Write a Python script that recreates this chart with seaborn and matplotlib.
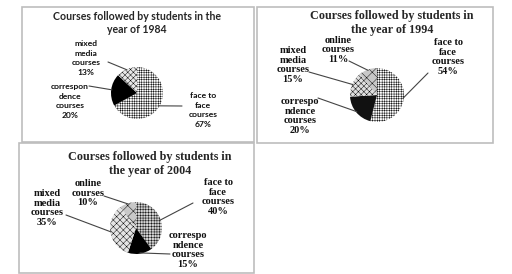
import matplotlib
matplotlib.use('Agg')
import numpy as np
import matplotlib.pyplot as plt
from matplotlib.patches import Rectangle
import seaborn as sns

# ---- data -------------------------------------------------------------
YEARS = ['1984', '1994', '2004']

LABELS_1984 = ['face to\nface\ncourses', 'correspon\ndence\ncourses', 'mixed\nmedia\ncourses']
SHARES_1984 = [67, 20, 13]

LABELS_1994 = ['face to\nface\ncourses', 'correspo\nndence\ncourses',
               'mixed\nmedia\ncourses', 'online\ncourses']
SHARES_1994 = [54, 20, 15, 11]

LABELS_2004 = ['face to\nface\ncourses', 'correspo\nndence\ncourses',
               'mixed\nmedia\ncourses', 'online\ncourses']
SHARES_2004 = [40, 15, 35, 10]

TITLES = ['Courses followed by students in the\nyear of 1984',
          'Courses followed by students in\nthe year of 1994',
          'Courses followed by students in\nthe year of 2004']

# ---- layout (pixels, origin top-left) ---------------------------------
W, H = 512, 274
PANELS = [(22, 7, 254, 142), (257, 7, 493, 143), (19, 143, 254, 273)]
PIES = [(137, 93, 26), (377, 95, 27), (136, 228, 26)]
TITLE_POS = [(137, 23), (392, 23), (150, 164)]
FONTS = ['Lato', 'Liberation Serif', 'Liberation Serif']
TITLE_SIZE = [7.6, 8.7, 8.7]
LABEL_SIZE = [6.1, 7.5, 7.5]
# label centre, leader start
LABEL_POS = [
    [(203, 110, 182, 106), (70, 101, 89, 86), (86, 58, 108, 62)],
    [(448, 57, 428, 73), (300, 116, 318, 98), (293, 65, 309, 72), (338, 50, 349, 61)],
    [(218, 197, 193, 203), (188, 250, 170, 254), (47, 208, 66, 215), (88, 193, 104, 196)],
]
# facecolour, hatch
HATCHES = [
    [('white', '+' * 7), ('black', ''), ('#e8e8e8', 'x' * 6)],
    [('white', '+' * 7), ('#111111', ''), ('#e0e0e0', 'x' * 6), ('#c8c8c8', 'x' * 3)],
    [('#d4d4d4', '+' * 6), ('black', ''), ('#e4e4e4', 'x' * 5), ('#c8c8c8', 'x' * 3)],
]

sns.set_style('white')
plt.rcParams['hatch.linewidth'] = 0.32

fig = plt.figure(figsize=(W / 100, H / 100), dpi=100)

for (x0, y0, x1, y1) in PANELS:
    fig.patches.append(Rectangle((x0 / W, 1 - y1 / H), (x1 - x0) / W, (y1 - y0) / H,
                                 transform=fig.transFigure, fill=False,
                                 edgecolor='#bdbdbd', lw=1.2))

data = [(LABELS_1984, SHARES_1984), (LABELS_1994, SHARES_1994), (LABELS_2004, SHARES_2004)]

for i, (labels, shares) in enumerate(data):
    cx, cy, r = PIES[i]
    ax = fig.add_axes([(cx - r) / W, 1 - (cy + r) / H, 2 * r / W, 2 * r / H])
    wedges, _ = ax.pie(shares, startangle=90, counterclock=False, radius=1,
                       wedgeprops=dict(linewidth=0, edgecolor='black'))
    for w, (fc, hatch) in zip(wedges, HATCHES[i]):
        w.set_facecolor(fc)
        w.set_hatch(hatch)
    ax.set_xlim(-1, 1)
    ax.set_ylim(-1, 1)
    ax.set_aspect('equal')
    ax.axis('off')

    tx, ty = TITLE_POS[i]
    fig.text(tx / W, 1 - ty / H, TITLES[i], ha='center', va='center',
             fontsize=TITLE_SIZE[i], fontweight='bold', family=FONTS[i],
             linespacing=1.15)

    for w, lab, share, (lx, ly, sx, sy) in zip(wedges, labels, shares, LABEL_POS[i]):
        fig.text(lx / W, 1 - ly / H, f'{lab}\n{share}%', ha='center', va='center',
                 fontsize=LABEL_SIZE[i], fontweight='bold', family=FONTS[i],
                 linespacing=1.45 if i == 0 else 1.12, color='#111111')
        mid = np.deg2rad((w.theta1 + w.theta2) / 2)
        ax.annotate('', xy=(np.cos(mid) * 0.97, np.sin(mid) * 0.97), xycoords='data',
                    xytext=(sx, H - sy), textcoords='figure pixels',
                    arrowprops=dict(arrowstyle='-', lw=0.8, color='#444444',
                                    shrinkA=0, shrinkB=0),
                    annotation_clip=False)

fig.savefig('out.png', dpi=100)
